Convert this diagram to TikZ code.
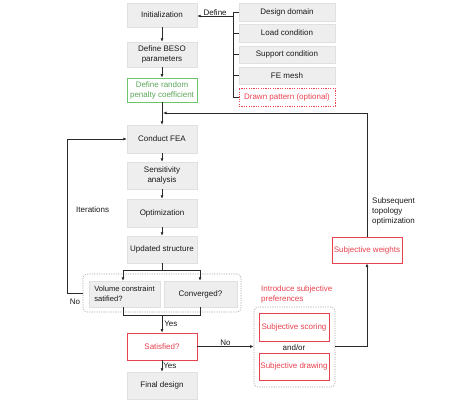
\documentclass[tikz,border=0pt]{standalone}
\usepackage{fontspec}
\setmainfont{Liberation Sans}
\usetikzlibrary{arrows.meta}
\definecolor{boxgray}{HTML}{EEEEEE}
\definecolor{boxline}{HTML}{E0E0E0}
\definecolor{myred}{HTML}{E8414F}
\definecolor{mygreen}{HTML}{6CC46C}
\definecolor{lin}{HTML}{2A2A2A}
\definecolor{grpline}{HTML}{A8A8A8}
\begin{document}
\begin{tikzpicture}[x=1pt,y=-1pt,
  every node/.style={font=\fontsize{8}{10}\selectfont, inner sep=1pt},
  gbox/.style={draw=boxline, fill=boxgray, line width=0.4pt, minimum width=70pt, align=center, text=black!90},
  rbox/.style={draw=myred, fill=white, line width=0.8pt, minimum width=70pt, align=center, text=myred},
  grnbox/.style={draw=mygreen, fill=white, line width=0.8pt, minimum width=70pt, align=center, text=mygreen!85!black},
  grp/.style={draw=grpline, line width=0.6pt, dash pattern=on 1.2pt off 1.2pt, rounded corners=4pt},
  arr/.style={draw=lin, line width=0.75pt, -{Latex[length=3.5pt,width=3pt]}},
  ln/.style={draw=lin, line width=0.75pt},
  lbl/.style={text=black!90}
]
\useasboundingbox (0,0) rectangle (474,402);

% left column
\node[gbox, minimum height=24pt] (init) at (162,15) {Initialization};
\node[gbox, minimum height=25pt] (beso) at (162,54.5) {Define BESO\\parameters};
\node[grnbox, minimum height=24pt] (pen) at (162,90) {Define random\\penalty coefficient};
\node[gbox, minimum height=28pt] (fea) at (162,139) {Conduct FEA};
\node[gbox, minimum height=27pt] (sens) at (162,175.5) {Sensitivity\\analysis};
\node[gbox, minimum height=28pt] (opt) at (162,213) {Optimization};
\node[gbox, minimum height=27pt] (upd) at (162,249.5) {Updated structure};

% group 1
\node[grp, minimum width=158pt, minimum height=38pt] (g1) at (162,293) {};
\node[gbox, minimum width=71pt, minimum height=26pt, align=left, font=\fontsize{7.6}{10}\selectfont] (vol) at (124.5,294) {Volume constraint\\satified?};
\node[gbox, minimum width=73pt, minimum height=26pt] (conv) at (200.5,294) {Converged?};

\node[rbox, minimum height=27pt] (sat) at (162,346.5) {Satisfied?};
\node[gbox, minimum height=27pt] (fin) at (162,385.5) {Final design};

% right top boxes
\node[gbox, minimum width=96pt, minimum height=18pt] (dd) at (287,12) {Design domain};
\node[gbox, minimum width=96pt, minimum height=18pt] (lc) at (287,33) {Load condition};
\node[gbox, minimum width=96pt, minimum height=17pt] (sc) at (287,54.5) {Support condition};
\node[gbox, minimum width=96pt, minimum height=17pt] (fe) at (287,75.5) {FE mesh};
\node[draw=myred, line width=0.7pt, dash pattern=on 1.2pt off 1.2pt, minimum width=96pt, minimum height=18pt, text=myred] (dp) at (287,97) {Drawn pattern (optional)};

% subjective group
\node[grp, minimum width=81pt, minimum height=80pt] (g2) at (294.5,347) {};
\node[text=myred, align=left, anchor=north west] (intro) at (260,284) {Introduce subjective\\preferences};
\node[rbox, minimum height=28pt] (ss) at (294,327) {Subjective scoring};
\node[lbl] (andor) at (294,347.5) {and/or};
\node[rbox, minimum height=27pt] (sd) at (294,366.5) {Subjective drawing};
\node[rbox, minimum height=26pt] (sw) at (367,250) {Subjective weights};
\node[lbl, align=left, anchor=west] (subs) at (371,211) {Subsequent\\topology\\optimization};

% bracket
\coordinate (btop) at (233,12);
\coordinate (bbot) at (233,97);
\coordinate (bdef) at (233,16);
\draw[ln] (btop) -- (bbot);
\foreach \b in {dd,lc,sc,fe,dp} { \draw[ln] (btop |- \b.west) -- (\b.west); }
\draw[arr] (bdef) -- (init.east |- bdef) node[lbl, midway, above=-0.5pt] {Define};

% main chain
\draw[arr] (init) -- (beso);
\draw[arr] (beso) -- (pen);
\draw[arr] (pen) -- (fea);
\draw[arr] (fea) -- (sens);
\draw[arr] (sens) -- (opt);
\draw[arr] (opt) -- (upd);

% split
\coordinate (sp) at (162,270);
\coordinate (spl) at (123,270);
\coordinate (spr) at (200,270);
\draw[ln] (upd.south) -- (sp);
\draw[ln] (spl) -- (spr);
\draw[arr] (spl) -- (spl |- vol.north);
\draw[arr] (spr) -- (spr |- conv.north);

% merge
\coordinate (mg) at (162,315);
\coordinate (mgl) at (123,315);
\coordinate (mgr) at (200,315);
\draw[ln] (mgl |- vol.south) -- (mgl) -- (mgr) -- (mgr |- conv.south);
\draw[arr] (mg) -- (sat.north) node[lbl, midway, right=1pt] {Yes};
\draw[arr] (sat) -- (fin) node[lbl, midway, right=0pt] {Yes};

% No to subjective
\draw[arr] (sat.east) -- (g2.west |- sat.east) node[lbl, pos=0.5, above=0pt] {No};

% to subjective weights
\coordinate (cw) at (367,346.5);
\draw[arr] (g2.east |- cw) -- (cw) -- (sw.south);

% feedback top
\coordinate (ft) at (367,113);
\coordinate (fl) at (163,113);
\draw[arr] (sw.north) -- (ft) -- (fl);

% iterations loop
\coordinate (il) at (67,293);
\draw[arr] (g1.west) -- (il) -- (il |- fea.west) -- (fea.west);
\node[lbl] (no1) at (75,302) {No};
\node[lbl, anchor=west] (iter) at (75,210) {Iterations};
\end{tikzpicture}
\end{document}
